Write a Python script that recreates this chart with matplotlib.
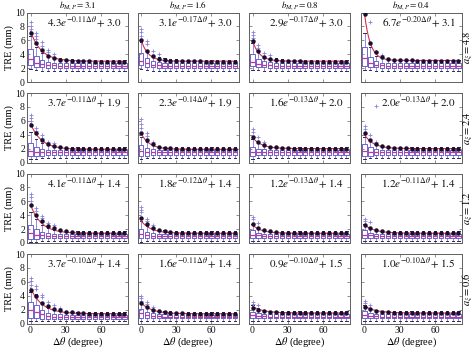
import numpy as np
import matplotlib
matplotlib.use("Agg")
import matplotlib.pyplot as plt

plt.rcParams['font.family'] = ['Liberation Serif', 'DejaVu Serif']
plt.rcParams['mathtext.fontset'] = 'stix'

# ---------------- data ----------------
X_DEG = [0, 5, 10, 15, 20, 25, 30, 35, 40, 45, 50, 55, 60, 65, 70, 75, 80]
COL_B = [3.1, 1.6, 0.8, 0.4]
ROW_A = [4.8, 2.4, 1.2, 0.6]

FIT_A = [[4.3, 3.1, 2.9, 6.7], [3.7, 2.3, 1.6, 2.0], [4.1, 1.8, 1.2, 1.2], [3.7, 1.6, 0.9, 1.0]]
FIT_K = [[0.11, 0.17, 0.17, 0.20], [0.11, 0.14, 0.13, 0.13], [0.11, 0.12, 0.13, 0.11], [0.10, 0.11, 0.10, 0.10]]
FIT_C = [[3.0, 3.0, 3.0, 3.1], [1.9, 1.9, 2.0, 2.0], [1.4, 1.4, 1.4, 1.4], [1.4, 1.4, 1.5, 1.5]]

MEANS = [
    [[7.1, 5.6, 4.6, 3.7, 3.4, 3.2, 3.1, 3.0, 3.0, 2.95, 2.95, 2.9, 2.9, 2.9, 2.9, 2.9, 2.9],
     [6.0, 4.5, 3.7, 3.3, 3.1, 3.05, 3.0, 3.0, 2.95, 2.95, 2.95, 2.9, 2.9, 2.9, 2.9, 2.9, 2.9],
     [5.9, 4.4, 3.6, 3.3, 3.1, 3.0, 3.0, 2.95, 2.95, 2.9, 2.9, 2.9, 2.9, 2.9, 2.9, 2.9, 2.9],
     [9.8, 5.6, 4.3, 3.6, 3.3, 3.2, 3.15, 3.1, 3.1, 3.05, 3.05, 3.0, 3.0, 3.0, 3.0, 3.0, 3.0]],
    [[5.4, 4.2, 3.3, 2.7, 2.4, 2.2, 2.1, 2.0, 1.95, 1.95, 1.9, 1.9, 1.9, 1.9, 1.9, 1.9, 1.9],
     [4.2, 3.2, 2.6, 2.3, 2.15, 2.05, 2.0, 1.95, 1.95, 1.9, 1.9, 1.9, 1.9, 1.9, 1.9, 1.9, 1.9],
     [3.6, 2.9, 2.5, 2.3, 2.2, 2.1, 2.05, 2.0, 2.0, 1.95, 1.95, 1.95, 1.95, 1.95, 1.95, 1.95, 1.95],
     [4.2, 3.3, 2.7, 2.4, 2.25, 2.15, 2.1, 2.05, 2.0, 2.0, 2.0, 1.95, 1.95, 1.95, 1.95, 1.95, 1.95]],
    [[5.4, 4.1, 3.1, 2.5, 2.1, 1.85, 1.7, 1.6, 1.5, 1.45, 1.45, 1.4, 1.4, 1.4, 1.4, 1.4, 1.4],
     [3.6, 2.7, 2.2, 1.9, 1.7, 1.6, 1.5, 1.45, 1.45, 1.4, 1.4, 1.4, 1.4, 1.4, 1.4, 1.4, 1.4],
     [2.7, 2.2, 1.9, 1.7, 1.6, 1.5, 1.45, 1.4, 1.4, 1.4, 1.4, 1.4, 1.4, 1.4, 1.4, 1.4, 1.4],
     [2.6, 2.1, 1.85, 1.7, 1.6, 1.5, 1.45, 1.4, 1.4, 1.4, 1.4, 1.4, 1.4, 1.4, 1.4, 1.4, 1.4]],
    [[4.8, 3.9, 3.0, 2.5, 2.1, 1.9, 1.7, 1.6, 1.5, 1.45, 1.4, 1.4, 1.35, 1.35, 1.35, 1.35, 1.35],
     [2.9, 2.4, 2.0, 1.8, 1.65, 1.55, 1.5, 1.45, 1.4, 1.4, 1.4, 1.4, 1.4, 1.4, 1.4, 1.4, 1.4],
     [2.3, 2.0, 1.8, 1.7, 1.6, 1.55, 1.5, 1.5, 1.45, 1.45, 1.45, 1.45, 1.45, 1.45, 1.45, 1.45, 1.45],
     [2.4, 2.1, 1.85, 1.7, 1.6, 1.55, 1.5, 1.5, 1.45, 1.45, 1.45, 1.45, 1.45, 1.45, 1.45, 1.45, 1.45]],
]

Q1 = [
    [[2.4, 2.2, 2.1, 2.0, 2.0, 2.0, 2.0, 2.0, 2.0, 2.0, 2.0, 2.0, 2.0, 2.0, 2.0, 2.0, 2.0],
     [2.4, 2.2, 2.1, 2.05, 2.0, 2.0, 2.0, 2.0, 2.0, 2.0, 2.0, 2.0, 2.0, 2.0, 2.0, 2.0, 2.0],
     [2.3, 2.2, 2.1, 2.0, 2.0, 2.0, 2.0, 2.0, 2.0, 2.0, 2.0, 2.0, 2.0, 2.0, 2.0, 2.0, 2.0],
     [2.3, 2.2, 2.1, 2.0, 2.0, 2.0, 2.0, 2.0, 2.0, 2.0, 2.0, 2.0, 2.0, 2.0, 2.0, 2.0, 2.0]],
    [[1.0, 1.0, 1.0, 1.05, 1.1, 1.1, 1.1, 1.1, 1.1, 1.1, 1.1, 1.1, 1.1, 1.1, 1.1, 1.1, 1.1],
     [1.0, 1.0, 1.05, 1.1, 1.1, 1.1, 1.1, 1.1, 1.1, 1.1, 1.1, 1.1, 1.1, 1.1, 1.1, 1.1, 1.1],
     [1.0, 1.05, 1.1, 1.1, 1.1, 1.1, 1.1, 1.1, 1.1, 1.1, 1.1, 1.1, 1.1, 1.1, 1.1, 1.1, 1.1],
     [1.0, 1.0, 1.05, 1.1, 1.1, 1.1, 1.1, 1.1, 1.1, 1.1, 1.1, 1.1, 1.1, 1.1, 1.1, 1.1, 1.1]],
    [[0.6, 0.6, 0.65, 0.7, 0.7, 0.7, 0.7, 0.7, 0.7, 0.7, 0.7, 0.7, 0.7, 0.7, 0.7, 0.7, 0.7],
     [0.7, 0.7, 0.7, 0.7, 0.7, 0.7, 0.7, 0.7, 0.7, 0.7, 0.7, 0.7, 0.7, 0.7, 0.7, 0.7, 0.7],
     [0.7, 0.7, 0.7, 0.7, 0.7, 0.7, 0.7, 0.7, 0.7, 0.7, 0.7, 0.7, 0.7, 0.7, 0.7, 0.7, 0.7],
     [0.7, 0.7, 0.7, 0.7, 0.7, 0.7, 0.7, 0.7, 0.7, 0.7, 0.7, 0.7, 0.7, 0.7, 0.7, 0.7, 0.7]],
    [[0.8, 0.75, 0.7, 0.7, 0.7, 0.7, 0.7, 0.7, 0.7, 0.7, 0.7, 0.7, 0.7, 0.7, 0.7, 0.7, 0.7],
     [0.8, 0.75, 0.75, 0.75, 0.75, 0.75, 0.75, 0.75, 0.75, 0.75, 0.75, 0.75, 0.75, 0.75, 0.75, 0.75, 0.75],
     [0.8, 0.8, 0.8, 0.8, 0.8, 0.8, 0.8, 0.8, 0.8, 0.8, 0.8, 0.8, 0.8, 0.8, 0.8, 0.8, 0.8],
     [0.8, 0.8, 0.8, 0.8, 0.8, 0.8, 0.8, 0.8, 0.8, 0.8, 0.8, 0.8, 0.8, 0.8, 0.8, 0.8, 0.8]],
]

MED = [
    [[3.3, 2.8, 2.6, 2.4, 2.4, 2.35, 2.35, 2.35, 2.3, 2.3, 2.3, 2.3, 2.3, 2.3, 2.3, 2.3, 2.3],
     [3.0, 2.7, 2.5, 2.4, 2.35, 2.35, 2.3, 2.3, 2.3, 2.3, 2.3, 2.3, 2.3, 2.3, 2.3, 2.3, 2.3],
     [2.9, 2.6, 2.45, 2.4, 2.35, 2.3, 2.3, 2.3, 2.3, 2.3, 2.3, 2.3, 2.3, 2.3, 2.3, 2.3, 2.3],
     [3.4, 2.8, 2.5, 2.4, 2.35, 2.3, 2.3, 2.3, 2.3, 2.3, 2.3, 2.3, 2.3, 2.3, 2.3, 2.3, 2.3]],
    [[1.7, 1.5, 1.45, 1.45, 1.45, 1.45, 1.45, 1.45, 1.45, 1.45, 1.45, 1.45, 1.45, 1.45, 1.45, 1.45, 1.45],
     [1.6, 1.5, 1.45, 1.45, 1.45, 1.45, 1.45, 1.45, 1.45, 1.45, 1.45, 1.45, 1.45, 1.45, 1.45, 1.45, 1.45],
     [1.55, 1.5, 1.45, 1.45, 1.45, 1.45, 1.45, 1.45, 1.45, 1.45, 1.45, 1.45, 1.45, 1.45, 1.45, 1.45, 1.45],
     [1.6, 1.5, 1.45, 1.45, 1.45, 1.45, 1.45, 1.45, 1.45, 1.45, 1.45, 1.45, 1.45, 1.45, 1.45, 1.45, 1.45]],
    [[1.5, 1.2, 1.1, 1.0, 1.0, 1.0, 1.0, 1.0, 1.0, 1.0, 1.0, 1.0, 1.0, 1.0, 1.0, 1.0, 1.0],
     [1.3, 1.15, 1.05, 1.0, 1.0, 1.0, 1.0, 1.0, 1.0, 1.0, 1.0, 1.0, 1.0, 1.0, 1.0, 1.0, 1.0],
     [1.2, 1.1, 1.0, 1.0, 1.0, 1.0, 1.0, 1.0, 1.0, 1.0, 1.0, 1.0, 1.0, 1.0, 1.0, 1.0, 1.0],
     [1.2, 1.1, 1.0, 1.0, 1.0, 1.0, 1.0, 1.0, 1.0, 1.0, 1.0, 1.0, 1.0, 1.0, 1.0, 1.0, 1.0]],
    [[1.9, 1.6, 1.3, 1.1, 1.0, 1.0, 1.0, 1.0, 1.0, 1.0, 1.0, 1.0, 1.0, 1.0, 1.0, 1.0, 1.0],
     [1.5, 1.2, 1.1, 1.05, 1.0, 1.0, 1.0, 1.0, 1.0, 1.0, 1.0, 1.0, 1.0, 1.0, 1.0, 1.0, 1.0],
     [1.2, 1.1, 1.05, 1.0, 1.0, 1.0, 1.0, 1.0, 1.0, 1.0, 1.0, 1.0, 1.0, 1.0, 1.0, 1.0, 1.0],
     [1.25, 1.1, 1.05, 1.0, 1.0, 1.0, 1.0, 1.0, 1.0, 1.0, 1.0, 1.0, 1.0, 1.0, 1.0, 1.0, 1.0]],
]

Q3 = [
    [[4.7, 3.7, 3.1, 2.9, 2.8, 2.8, 2.75, 2.75, 2.7, 2.7, 2.7, 2.7, 2.7, 2.7, 2.7, 2.7, 2.7],
     [4.2, 3.4, 3.0, 2.85, 2.8, 2.75, 2.75, 2.7, 2.7, 2.7, 2.7, 2.7, 2.7, 2.7, 2.7, 2.7, 2.7],
     [4.0, 3.3, 3.0, 2.85, 2.8, 2.75, 2.7, 2.7, 2.7, 2.7, 2.7, 2.7, 2.7, 2.7, 2.7, 2.7, 2.7],
     [5.0, 3.6, 3.0, 2.8, 2.75, 2.7, 2.7, 2.7, 2.7, 2.7, 2.7, 2.7, 2.7, 2.7, 2.7, 2.7, 2.7]],
    [[2.8, 2.3, 1.95, 1.85, 1.8, 1.8, 1.8, 1.8, 1.8, 1.8, 1.8, 1.8, 1.8, 1.8, 1.8, 1.8, 1.8],
     [2.5, 2.1, 1.9, 1.85, 1.8, 1.8, 1.8, 1.8, 1.8, 1.8, 1.8, 1.8, 1.8, 1.8, 1.8, 1.8, 1.8],
     [2.3, 2.0, 1.9, 1.85, 1.8, 1.8, 1.8, 1.8, 1.8, 1.8, 1.8, 1.8, 1.8, 1.8, 1.8, 1.8, 1.8],
     [2.6, 2.2, 1.95, 1.85, 1.8, 1.8, 1.8, 1.8, 1.8, 1.8, 1.8, 1.8, 1.8, 1.8, 1.8, 1.8, 1.8]],
    [[2.6, 2.0, 1.6, 1.4, 1.3, 1.25, 1.25, 1.25, 1.25, 1.25, 1.25, 1.25, 1.25, 1.25, 1.25, 1.25, 1.25],
     [2.0, 1.6, 1.4, 1.3, 1.25, 1.25, 1.25, 1.25, 1.25, 1.25, 1.25, 1.25, 1.25, 1.25, 1.25, 1.25, 1.25],
     [1.8, 1.5, 1.35, 1.3, 1.25, 1.25, 1.25, 1.25, 1.25, 1.25, 1.25, 1.25, 1.25, 1.25, 1.25, 1.25, 1.25],
     [1.8, 1.5, 1.35, 1.3, 1.25, 1.25, 1.25, 1.25, 1.25, 1.25, 1.25, 1.25, 1.25, 1.25, 1.25, 1.25, 1.25]],
    [[3.1, 2.6, 1.9, 1.5, 1.35, 1.3, 1.25, 1.25, 1.25, 1.25, 1.25, 1.25, 1.25, 1.25, 1.25, 1.25, 1.25],
     [2.1, 1.7, 1.45, 1.35, 1.3, 1.25, 1.25, 1.25, 1.25, 1.25, 1.25, 1.25, 1.25, 1.25, 1.25, 1.25, 1.25],
     [1.7, 1.45, 1.35, 1.3, 1.3, 1.3, 1.3, 1.3, 1.3, 1.3, 1.3, 1.3, 1.3, 1.3, 1.3, 1.3, 1.3],
     [1.75, 1.5, 1.35, 1.3, 1.3, 1.3, 1.3, 1.3, 1.3, 1.3, 1.3, 1.3, 1.3, 1.3, 1.3, 1.3, 1.3]],
]

WLO = [
    [[1.8, 1.7, 1.6, 1.6, 1.6, 1.6, 1.6, 1.6, 1.6, 1.6, 1.6, 1.6, 1.6, 1.6, 1.6, 1.6, 1.6],
     [1.8, 1.7, 1.6, 1.6, 1.6, 1.6, 1.6, 1.6, 1.6, 1.6, 1.6, 1.6, 1.6, 1.6, 1.6, 1.6, 1.6],
     [1.7, 1.7, 1.6, 1.6, 1.6, 1.6, 1.6, 1.6, 1.6, 1.6, 1.6, 1.6, 1.6, 1.6, 1.6, 1.6, 1.6],
     [1.7, 1.7, 1.6, 1.6, 1.6, 1.6, 1.6, 1.6, 1.6, 1.6, 1.6, 1.6, 1.6, 1.6, 1.6, 1.6, 1.6]],
    [[0.5, 0.5, 0.6, 0.6, 0.7, 0.7, 0.7, 0.7, 0.7, 0.7, 0.7, 0.7, 0.7, 0.7, 0.7, 0.7, 0.7],
     [0.5, 0.6, 0.7, 0.7, 0.7, 0.7, 0.7, 0.7, 0.7, 0.7, 0.7, 0.7, 0.7, 0.7, 0.7, 0.7, 0.7],
     [0.5, 0.6, 0.7, 0.7, 0.7, 0.7, 0.7, 0.7, 0.7, 0.7, 0.7, 0.7, 0.7, 0.7, 0.7, 0.7, 0.7],
     [0.5, 0.6, 0.6, 0.7, 0.7, 0.7, 0.7, 0.7, 0.7, 0.7, 0.7, 0.7, 0.7, 0.7, 0.7, 0.7, 0.7]],
    [[0.2, 0.2, 0.3, 0.3, 0.3, 0.3, 0.3, 0.3, 0.3, 0.3, 0.3, 0.3, 0.3, 0.3, 0.3, 0.3, 0.3],
     [0.2, 0.3, 0.3, 0.3, 0.3, 0.3, 0.3, 0.3, 0.3, 0.3, 0.3, 0.3, 0.3, 0.3, 0.3, 0.3, 0.3],
     [0.3, 0.3, 0.3, 0.3, 0.3, 0.3, 0.3, 0.3, 0.3, 0.3, 0.3, 0.3, 0.3, 0.3, 0.3, 0.3, 0.3],
     [0.3, 0.3, 0.3, 0.3, 0.3, 0.3, 0.3, 0.3, 0.3, 0.3, 0.3, 0.3, 0.3, 0.3, 0.3, 0.3, 0.3]],
    [[0.3, 0.3, 0.3, 0.3, 0.3, 0.3, 0.3, 0.3, 0.3, 0.3, 0.3, 0.3, 0.3, 0.3, 0.3, 0.3, 0.3],
     [0.3, 0.3, 0.3, 0.3, 0.3, 0.3, 0.3, 0.3, 0.3, 0.3, 0.3, 0.3, 0.3, 0.3, 0.3, 0.3, 0.3],
     [0.35, 0.35, 0.35, 0.35, 0.35, 0.35, 0.35, 0.35, 0.35, 0.35, 0.35, 0.35, 0.35, 0.35, 0.35, 0.35, 0.35],
     [0.35, 0.35, 0.35, 0.35, 0.35, 0.35, 0.35, 0.35, 0.35, 0.35, 0.35, 0.35, 0.35, 0.35, 0.35, 0.35, 0.35]],
]

WHI = [
    [[6.6, 5.1, 4.2, 3.8, 3.6, 3.4, 3.3, 3.3, 3.2, 3.2, 3.2, 3.2, 3.2, 3.2, 3.2, 3.2, 3.2],
     [5.8, 4.6, 3.9, 3.6, 3.4, 3.3, 3.3, 3.2, 3.2, 3.2, 3.2, 3.2, 3.2, 3.2, 3.2, 3.2, 3.2],
     [5.6, 4.5, 3.8, 3.5, 3.4, 3.3, 3.2, 3.2, 3.2, 3.2, 3.2, 3.2, 3.2, 3.2, 3.2, 3.2, 3.2],
     [7.0, 5.0, 3.8, 3.4, 3.3, 3.2, 3.2, 3.2, 3.2, 3.2, 3.2, 3.2, 3.2, 3.2, 3.2, 3.2, 3.2]],
    [[4.4, 3.4, 2.8, 2.5, 2.3, 2.3, 2.2, 2.2, 2.2, 2.2, 2.2, 2.2, 2.2, 2.2, 2.2, 2.2, 2.2],
     [3.6, 3.0, 2.5, 2.3, 2.25, 2.2, 2.2, 2.2, 2.2, 2.2, 2.2, 2.2, 2.2, 2.2, 2.2, 2.2, 2.2],
     [3.4, 2.9, 2.5, 2.3, 2.25, 2.2, 2.2, 2.2, 2.2, 2.2, 2.2, 2.2, 2.2, 2.2, 2.2, 2.2, 2.2],
     [3.6, 3.1, 2.6, 2.3, 2.25, 2.2, 2.2, 2.2, 2.2, 2.2, 2.2, 2.2, 2.2, 2.2, 2.2, 2.2, 2.2]],
    [[4.4, 3.4, 2.6, 2.1, 1.9, 1.8, 1.7, 1.7, 1.7, 1.7, 1.7, 1.7, 1.7, 1.7, 1.7, 1.7, 1.7],
     [3.2, 2.5, 2.1, 1.9, 1.8, 1.7, 1.7, 1.7, 1.7, 1.7, 1.7, 1.7, 1.7, 1.7, 1.7, 1.7, 1.7],
     [2.8, 2.3, 2.0, 1.8, 1.75, 1.7, 1.7, 1.7, 1.7, 1.7, 1.7, 1.7, 1.7, 1.7, 1.7, 1.7, 1.7],
     [2.8, 2.3, 2.0, 1.8, 1.75, 1.7, 1.7, 1.7, 1.7, 1.7, 1.7, 1.7, 1.7, 1.7, 1.7, 1.7, 1.7]],
    [[4.6, 4.2, 3.0, 2.3, 2.0, 1.8, 1.7, 1.7, 1.7, 1.7, 1.7, 1.7, 1.7, 1.7, 1.7, 1.7, 1.7],
     [3.0, 2.5, 2.1, 1.9, 1.8, 1.75, 1.7, 1.7, 1.7, 1.7, 1.7, 1.7, 1.7, 1.7, 1.7, 1.7, 1.7],
     [2.6, 2.2, 1.95, 1.85, 1.8, 1.75, 1.75, 1.75, 1.75, 1.75, 1.75, 1.75, 1.75, 1.75, 1.75, 1.75, 1.75],
     [2.6, 2.2, 1.95, 1.85, 1.8, 1.75, 1.75, 1.75, 1.75, 1.75, 1.75, 1.75, 1.75, 1.75, 1.75, 1.75, 1.75]],
]

# outliers: (angle, value) pairs per panel
FLIERS = [
    [[(0, 7.6), (0, 8.1), (0, 8.6), (5, 6.2), (5, 6.6), (5, 7.0), (10, 5.2), (10, 5.7), (15, 4.3), (15, 4.6), (20, 4.0)],
     [(0, 6.6), (0, 7.2), (0, 7.6), (5, 5.4), (5, 5.9), (10, 4.4), (15, 4.0)],
     [(0, 6.4), (0, 6.8), (0, 7.2), (5, 4.9), (5, 5.3), (10, 4.2), (15, 3.9)],
     [(5, 8.6), (10, 4.3), (15, 3.9)]],
    [[(0, 6.0), (0, 6.4), (0, 6.8), (5, 4.6), (5, 5.0), (10, 3.5), (10, 3.9), (15, 3.0), (20, 2.8)],
     [(0, 5.0), (0, 5.6), (0, 6.3), (5, 3.8), (5, 4.2), (10, 3.0)],
     [(0, 4.4), (0, 4.8), (5, 3.6), (10, 2.9)],
     [(0, 4.8), (0, 5.2), (5, 4.0), (10, 8.2), (10, 3.0)]],
    [[(0, 6.0), (0, 6.6), (0, 7.1), (5, 4.6), (5, 5.0), (10, 3.6), (10, 3.9), (15, 2.9), (20, 2.6)],
     [(0, 4.4), (0, 4.8), (0, 5.2), (5, 3.2), (5, 3.5), (10, 2.6)],
     [(0, 3.4), (0, 3.8), (5, 2.9)],
     [(0, 3.1), (0, 3.4), (5, 3.0)]],
    [[(0, 5.6), (0, 6.1), (0, 6.5), (5, 5.0), (5, 5.4), (10, 3.8), (10, 4.1), (15, 3.1), (20, 2.7), (25, 2.3)],
     [(0, 3.3), (0, 3.6), (0, 3.9), (5, 2.8), (5, 3.1), (10, 2.4)],
     [(0, 2.8), (0, 3.1), (5, 2.6)],
     [(0, 2.9), (0, 3.2), (5, 2.7)]],
]

# ---------------- style ----------------
BOX_C = '#6f63d2'
MED_C = '#c8358e'
WHISK_C = '#6a5fd0'
CAP_C = '#2a2a55'
FLIER_C = '#8a80e0'
MEAN_C = '#1c0d2e'
FIT_COL = '#d8304a'
SPINE_C = '#606060'

W, H = 474, 349
fig = plt.figure(figsize=(W / 100, H / 100), dpi=100)

col_left = [27, 137.5, 249, 361]
row_top = [12.5, 93, 173.5, 254]
aw, ah = 101, 69.5

for r in range(4):
    for c in range(4):
        ax = fig.add_axes([col_left[c] / W, 1 - (row_top[r] + ah) / H, aw / W, ah / H])
        stats = []
        for i, x in enumerate(X_DEG):
            fl = [v for (xx, v) in FLIERS[r][c] if xx == x]
            stats.append(dict(med=MED[r][c][i], q1=Q1[r][c][i], q3=Q3[r][c][i],
                              whislo=WLO[r][c][i], whishi=WHI[r][c][i], fliers=fl))
        ax.bxp(stats, positions=X_DEG, widths=3.6, capwidths=1.8, manage_ticks=False,
               boxprops=dict(color=BOX_C, lw=0.7),
               medianprops=dict(color=MED_C, lw=0.9),
               whiskerprops=dict(color=WHISK_C, lw=0.5),
               capprops=dict(color=CAP_C, lw=0.7),
               flierprops=dict(marker='+', markeredgecolor=FLIER_C, markersize=3.2,
                               markeredgewidth=0.6, linestyle='none'))
        xs = np.linspace(0, 80, 200)
        A, k, C0 = FIT_A[r][c], FIT_K[r][c], FIT_C[r][c]
        ax.plot(xs, A * np.exp(-k * xs) + C0, color=FIT_COL, lw=0.8, zorder=3)
        ax.plot(X_DEG, MEANS[r][c], 'o', color=MEAN_C, ms=2.2, zorder=4)
        ax.text(0.57, 0.86, r'$%.1fe^{-%.2f\Delta\theta} + %.1f$' % (A, k, C0),
                transform=ax.transAxes, ha='center', va='center', fontsize=8, color='#111111')
        ax.set_xlim(-3, 83)
        ax.set_ylim(0, 10)
        ax.set_xticks([0, 30, 60])
        ax.set_yticks([0, 2, 4, 6, 8, 10])
        ax.tick_params(direction='in', length=2, width=0.5, top=True, right=True,
                       labelsize=7, pad=1.5, colors=SPINE_C, labelcolor='#111111')
        for s in ax.spines.values():
            s.set_color(SPINE_C)
            s.set_linewidth(0.7)
        if c != 0:
            ax.set_yticklabels([])
        else:
            ax.set_ylabel('TRE (mm)', fontsize=7.5, labelpad=1)
        if r != 3:
            ax.set_xticklabels([])
        else:
            ax.set_xlabel(r'$\Delta\theta$ (degree)', fontsize=7.5, labelpad=1)
        if r == 0:
            ax.text(0.5, 1.01, r'$b_{M,P} = %.1f$' % COL_B[c], transform=ax.transAxes,
                    ha='center', va='bottom', fontsize=6.5)
        if c == 3:
            ax.text(1.06, 0.5, r'$a_{\xi} = %.1f$' % ROW_A[r], transform=ax.transAxes,
                    rotation=90, ha='center', va='center', fontsize=7.5)

fig.savefig('out.png', dpi=100)
